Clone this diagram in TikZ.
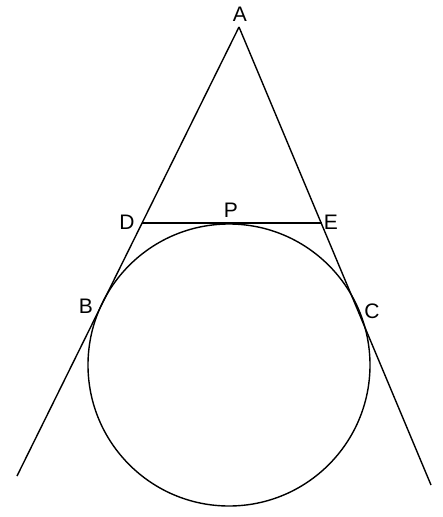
\documentclass[tikz,border=0pt]{standalone}
\usepackage{fontspec}
\setmainfont{Liberation Sans}
\usetikzlibrary{positioning}
\tikzset{ptlabel/.style={font=\fontsize{21}{21}\selectfont, inner sep=0pt}}

\begin{document}
\begin{tikzpicture}[x=1pt, y=-1pt, line width=1.4pt]
    \useasboundingbox (0,0) rectangle (442,517);
        % triangle sides and chord
        \coordinate (A) at (239,27);
        \coordinate (Lend) at (17,476);
        \coordinate (Rend) at (431,485);
        \coordinate (D) at (142,223);
        \coordinate (E) at (322,223);
        \coordinate (O) at (229,365);
        \draw (A) -- (Lend);
        \draw (A) -- (Rend);
        \draw (D) -- (E);
        \draw (O) circle (141pt);
        % labels
        \node[ptlabel] (labA) at (240,14) {A};
        \node[ptlabel] (labD) at (127,222) {D};
        \node[ptlabel] (labP) at (231,210) {P};
        \node[ptlabel] (labE) at (331,222) {E};
        \node[ptlabel] (labB) at (86,306) {B};
        \node[ptlabel] (labC) at (372,311) {C};
    \end{tikzpicture}
\end{document}
